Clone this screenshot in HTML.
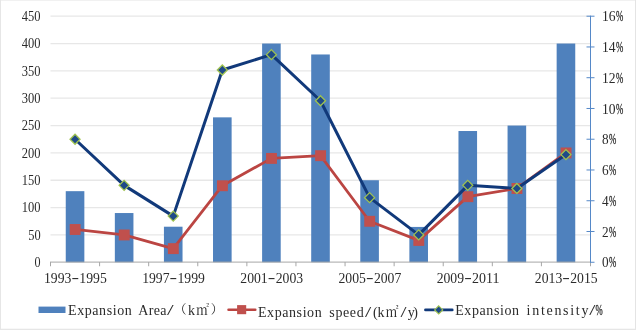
<!DOCTYPE html>
<html lang="en"><head><meta charset="utf-8"><title>Expansion chart</title>
<style>html,body{margin:0;padding:0;background:#fff;}svg{display:block;}text{font-family:"Liberation Serif", "Noto Serif CJK SC", serif;fill:#2b2b2b;}</style>
</head><body>
<svg width="636" height="330" viewBox="0 0 636 330">
<rect x="0" y="0" width="636" height="330" fill="#fff"/>
<rect x="0" y="0" width="636" height="1" fill="#f1f1f1"/>
<rect x="0" y="0" width="1" height="330" fill="#e6e6e6"/>
<rect x="635" y="0" width="1" height="330" fill="#e4e4e4"/>
<rect x="0" y="328.7" width="636" height="1.3" fill="#e6e6e6"/>
<line x1="50.5" y1="234.91" x2="590.5" y2="234.91" stroke="#e7e7e7" stroke-width="1.3"/>
<line x1="50.5" y1="207.57" x2="590.5" y2="207.57" stroke="#e7e7e7" stroke-width="1.3"/>
<line x1="50.5" y1="180.23" x2="590.5" y2="180.23" stroke="#e7e7e7" stroke-width="1.3"/>
<line x1="50.5" y1="152.89" x2="590.5" y2="152.89" stroke="#e7e7e7" stroke-width="1.3"/>
<line x1="50.5" y1="125.56" x2="590.5" y2="125.56" stroke="#e7e7e7" stroke-width="1.3"/>
<line x1="50.5" y1="98.22" x2="590.5" y2="98.22" stroke="#e7e7e7" stroke-width="1.3"/>
<line x1="50.5" y1="70.88" x2="590.5" y2="70.88" stroke="#e7e7e7" stroke-width="1.3"/>
<line x1="50.5" y1="43.54" x2="590.5" y2="43.54" stroke="#e7e7e7" stroke-width="1.3"/>
<line x1="50.5" y1="16.20" x2="590.5" y2="16.20" stroke="#e7e7e7" stroke-width="1.3"/>
<rect x="65.75" y="191.17" width="18.60" height="71.08" fill="#4f81bd"/>
<rect x="114.84" y="213.04" width="18.60" height="49.21" fill="#4f81bd"/>
<rect x="163.93" y="226.71" width="18.60" height="35.54" fill="#4f81bd"/>
<rect x="213.02" y="117.35" width="18.60" height="144.90" fill="#4f81bd"/>
<rect x="262.11" y="43.54" width="18.60" height="218.71" fill="#4f81bd"/>
<rect x="311.20" y="54.47" width="18.60" height="207.78" fill="#4f81bd"/>
<rect x="360.29" y="180.23" width="18.60" height="82.02" fill="#4f81bd"/>
<rect x="409.38" y="226.93" width="18.60" height="35.32" fill="#4f81bd"/>
<rect x="458.47" y="131.02" width="18.60" height="131.23" fill="#4f81bd"/>
<rect x="507.56" y="125.56" width="18.60" height="136.69" fill="#4f81bd"/>
<rect x="556.65" y="43.54" width="18.60" height="218.71" fill="#4f81bd"/>
<line x1="50" y1="262.1" x2="590.5" y2="262.1" stroke="#a6a6a6" stroke-width="1"/>
<line x1="50.50" y1="262.05" x2="50.50" y2="266.25" stroke="#a6a6a6" stroke-width="1"/>
<line x1="99.59" y1="262.05" x2="99.59" y2="266.25" stroke="#a6a6a6" stroke-width="1"/>
<line x1="148.68" y1="262.05" x2="148.68" y2="266.25" stroke="#a6a6a6" stroke-width="1"/>
<line x1="197.77" y1="262.05" x2="197.77" y2="266.25" stroke="#a6a6a6" stroke-width="1"/>
<line x1="246.86" y1="262.05" x2="246.86" y2="266.25" stroke="#a6a6a6" stroke-width="1"/>
<line x1="295.95" y1="262.05" x2="295.95" y2="266.25" stroke="#a6a6a6" stroke-width="1"/>
<line x1="345.05" y1="262.05" x2="345.05" y2="266.25" stroke="#a6a6a6" stroke-width="1"/>
<line x1="394.14" y1="262.05" x2="394.14" y2="266.25" stroke="#a6a6a6" stroke-width="1"/>
<line x1="443.23" y1="262.05" x2="443.23" y2="266.25" stroke="#a6a6a6" stroke-width="1"/>
<line x1="492.32" y1="262.05" x2="492.32" y2="266.25" stroke="#a6a6a6" stroke-width="1"/>
<line x1="541.41" y1="262.05" x2="541.41" y2="266.25" stroke="#a6a6a6" stroke-width="1"/>
<line x1="590.50" y1="262.05" x2="590.50" y2="266.25" stroke="#a6a6a6" stroke-width="1"/>
<line x1="590.5" y1="15.7" x2="590.5" y2="262.75" stroke="#5588c8" stroke-width="1"/>
<line x1="590.5" y1="262.25" x2="594.5" y2="262.25" stroke="#5588c8" stroke-width="1"/>
<line x1="586.5" y1="231.49" x2="594.5" y2="231.49" stroke="#5588c8" stroke-width="1"/>
<line x1="586.5" y1="200.74" x2="594.5" y2="200.74" stroke="#5588c8" stroke-width="1"/>
<line x1="586.5" y1="169.98" x2="594.5" y2="169.98" stroke="#5588c8" stroke-width="1"/>
<line x1="586.5" y1="139.22" x2="594.5" y2="139.22" stroke="#5588c8" stroke-width="1"/>
<line x1="586.5" y1="108.47" x2="594.5" y2="108.47" stroke="#5588c8" stroke-width="1"/>
<line x1="586.5" y1="77.71" x2="594.5" y2="77.71" stroke="#5588c8" stroke-width="1"/>
<line x1="586.5" y1="46.96" x2="594.5" y2="46.96" stroke="#5588c8" stroke-width="1"/>
<line x1="586.5" y1="16.20" x2="594.5" y2="16.20" stroke="#5588c8" stroke-width="1"/>
<polyline points="75.05,229.44 124.14,234.91 173.23,248.58 222.32,185.70 271.41,158.36 320.50,155.63 369.59,221.24 418.68,240.38 467.77,196.64 516.86,188.44 565.95,152.89" fill="none" stroke="#bb4542" stroke-width="2.75" stroke-linejoin="round" stroke-linecap="round"/>
<rect x="69.70" y="224.04" width="10.9" height="10.9" fill="#c0504d"/>
<rect x="118.79" y="229.51" width="10.9" height="10.9" fill="#c0504d"/>
<rect x="167.88" y="243.18" width="10.9" height="10.9" fill="#c0504d"/>
<rect x="216.97" y="180.30" width="10.9" height="10.9" fill="#c0504d"/>
<rect x="266.06" y="152.96" width="10.9" height="10.9" fill="#c0504d"/>
<rect x="315.15" y="150.23" width="10.9" height="10.9" fill="#c0504d"/>
<rect x="364.24" y="215.84" width="10.9" height="10.9" fill="#c0504d"/>
<rect x="413.33" y="234.98" width="10.9" height="10.9" fill="#c0504d"/>
<rect x="462.42" y="191.24" width="10.9" height="10.9" fill="#c0504d"/>
<rect x="511.51" y="183.03" width="10.9" height="10.9" fill="#c0504d"/>
<rect x="560.60" y="147.49" width="10.9" height="10.9" fill="#c0504d"/>
<polyline points="75.05,139.22 124.14,185.36 173.23,216.12 222.32,70.02 271.41,54.65 320.50,100.78 369.59,197.66 418.68,234.88 467.77,185.36 516.86,188.44 565.95,154.60" fill="none" stroke="#11397a" stroke-width="3" stroke-linejoin="round" stroke-linecap="round"/>
<path d="M75.05 134.22L80.05 139.22L75.05 144.22L70.05 139.22Z" fill="#1f4a88" stroke="#a0c350" stroke-width="1.3"/>
<path d="M124.14 180.36L129.14 185.36L124.14 190.36L119.14 185.36Z" fill="#1f4a88" stroke="#a0c350" stroke-width="1.3"/>
<path d="M173.23 211.12L178.23 216.12L173.23 221.12L168.23 216.12Z" fill="#1f4a88" stroke="#a0c350" stroke-width="1.3"/>
<path d="M222.32 65.02L227.32 70.02L222.32 75.02L217.32 70.02Z" fill="#1f4a88" stroke="#a0c350" stroke-width="1.3"/>
<path d="M271.41 49.65L276.41 54.65L271.41 59.65L266.41 54.65Z" fill="#1f4a88" stroke="#a0c350" stroke-width="1.3"/>
<path d="M320.50 95.78L325.50 100.78L320.50 105.78L315.50 100.78Z" fill="#1f4a88" stroke="#a0c350" stroke-width="1.3"/>
<path d="M369.59 192.66L374.59 197.66L369.59 202.66L364.59 197.66Z" fill="#1f4a88" stroke="#a0c350" stroke-width="1.3"/>
<path d="M418.68 229.88L423.68 234.88L418.68 239.88L413.68 234.88Z" fill="#1f4a88" stroke="#a0c350" stroke-width="1.3"/>
<path d="M467.77 180.36L472.77 185.36L467.77 190.36L462.77 185.36Z" fill="#1f4a88" stroke="#a0c350" stroke-width="1.3"/>
<path d="M516.86 183.44L521.86 188.44L516.86 193.44L511.86 188.44Z" fill="#1f4a88" stroke="#a0c350" stroke-width="1.3"/>
<path d="M565.95 149.60L570.95 154.60L565.95 159.60L560.95 154.60Z" fill="#1f4a88" stroke="#a0c350" stroke-width="1.3"/>
<text x="40.6" y="267.05" font-size="13.6" text-anchor="end" textLength="6.05" lengthAdjust="spacingAndGlyphs">0</text>
<text x="40.6" y="239.71" font-size="13.6" text-anchor="end" textLength="12.40" lengthAdjust="spacingAndGlyphs">50</text>
<text x="40.6" y="212.37" font-size="13.6" text-anchor="end" textLength="18.75" lengthAdjust="spacingAndGlyphs">100</text>
<text x="40.6" y="185.03" font-size="13.6" text-anchor="end" textLength="18.75" lengthAdjust="spacingAndGlyphs">150</text>
<text x="40.6" y="157.69" font-size="13.6" text-anchor="end" textLength="18.75" lengthAdjust="spacingAndGlyphs">200</text>
<text x="40.6" y="130.36" font-size="13.6" text-anchor="end" textLength="18.75" lengthAdjust="spacingAndGlyphs">250</text>
<text x="40.6" y="103.02" font-size="13.6" text-anchor="end" textLength="18.75" lengthAdjust="spacingAndGlyphs">300</text>
<text x="40.6" y="75.68" font-size="13.6" text-anchor="end" textLength="18.75" lengthAdjust="spacingAndGlyphs">350</text>
<text x="40.6" y="48.34" font-size="13.6" text-anchor="end" textLength="18.75" lengthAdjust="spacingAndGlyphs">400</text>
<text x="40.6" y="21.00" font-size="13.6" text-anchor="end" textLength="18.75" lengthAdjust="spacingAndGlyphs">450</text>
<text y="267.35" font-size="14.8" lengthAdjust="spacingAndGlyphs"><tspan x="601.9" textLength="6.65" lengthAdjust="spacingAndGlyphs">0</tspan><tspan x="608.95" textLength="7.3" lengthAdjust="spacingAndGlyphs" stroke="#2b2b2b" stroke-width="0.3">%</tspan></text>
<text y="236.59" font-size="14.8" lengthAdjust="spacingAndGlyphs"><tspan x="601.9" textLength="6.65" lengthAdjust="spacingAndGlyphs">2</tspan><tspan x="608.95" textLength="7.3" lengthAdjust="spacingAndGlyphs" stroke="#2b2b2b" stroke-width="0.3">%</tspan></text>
<text y="205.84" font-size="14.8" lengthAdjust="spacingAndGlyphs"><tspan x="601.9" textLength="6.65" lengthAdjust="spacingAndGlyphs">4</tspan><tspan x="608.95" textLength="7.3" lengthAdjust="spacingAndGlyphs" stroke="#2b2b2b" stroke-width="0.3">%</tspan></text>
<text y="175.08" font-size="14.8" lengthAdjust="spacingAndGlyphs"><tspan x="601.9" textLength="6.65" lengthAdjust="spacingAndGlyphs">6</tspan><tspan x="608.95" textLength="7.3" lengthAdjust="spacingAndGlyphs" stroke="#2b2b2b" stroke-width="0.3">%</tspan></text>
<text y="144.32" font-size="14.8" lengthAdjust="spacingAndGlyphs"><tspan x="601.9" textLength="6.65" lengthAdjust="spacingAndGlyphs">8</tspan><tspan x="608.95" textLength="7.3" lengthAdjust="spacingAndGlyphs" stroke="#2b2b2b" stroke-width="0.3">%</tspan></text>
<text y="113.57" font-size="14.8" lengthAdjust="spacingAndGlyphs"><tspan x="601.9" textLength="13.60" lengthAdjust="spacingAndGlyphs">10</tspan><tspan x="615.90" textLength="7.3" lengthAdjust="spacingAndGlyphs" stroke="#2b2b2b" stroke-width="0.3">%</tspan></text>
<text y="82.81" font-size="14.8" lengthAdjust="spacingAndGlyphs"><tspan x="601.9" textLength="13.60" lengthAdjust="spacingAndGlyphs">12</tspan><tspan x="615.90" textLength="7.3" lengthAdjust="spacingAndGlyphs" stroke="#2b2b2b" stroke-width="0.3">%</tspan></text>
<text y="52.06" font-size="14.8" lengthAdjust="spacingAndGlyphs"><tspan x="601.9" textLength="13.60" lengthAdjust="spacingAndGlyphs">14</tspan><tspan x="615.90" textLength="7.3" lengthAdjust="spacingAndGlyphs" stroke="#2b2b2b" stroke-width="0.3">%</tspan></text>
<text y="21.30" font-size="14.8" lengthAdjust="spacingAndGlyphs"><tspan x="601.9" textLength="13.60" lengthAdjust="spacingAndGlyphs">16</tspan><tspan x="615.90" textLength="7.3" lengthAdjust="spacingAndGlyphs" stroke="#2b2b2b" stroke-width="0.3">%</tspan></text>
<text y="282.9" font-size="15.3" lengthAdjust="spacingAndGlyphs"><tspan x="43.95" textLength="27.4" lengthAdjust="spacingAndGlyphs">1993</tspan><tspan x="71.45" y="281.6" textLength="7.6" lengthAdjust="spacingAndGlyphs">-</tspan><tspan x="79.35" y="282.9" textLength="27.4" lengthAdjust="spacingAndGlyphs">1995</tspan></text>
<text y="282.9" font-size="15.3" lengthAdjust="spacingAndGlyphs"><tspan x="142.13" textLength="27.4" lengthAdjust="spacingAndGlyphs">1997</tspan><tspan x="169.63" y="281.6" textLength="7.6" lengthAdjust="spacingAndGlyphs">-</tspan><tspan x="177.53" y="282.9" textLength="27.4" lengthAdjust="spacingAndGlyphs">1999</tspan></text>
<text y="282.9" font-size="15.3" lengthAdjust="spacingAndGlyphs"><tspan x="240.31" textLength="27.4" lengthAdjust="spacingAndGlyphs">2001</tspan><tspan x="267.81" y="281.6" textLength="7.6" lengthAdjust="spacingAndGlyphs">-</tspan><tspan x="275.71" y="282.9" textLength="27.4" lengthAdjust="spacingAndGlyphs">2003</tspan></text>
<text y="282.9" font-size="15.3" lengthAdjust="spacingAndGlyphs"><tspan x="338.49" textLength="27.4" lengthAdjust="spacingAndGlyphs">2005</tspan><tspan x="365.99" y="281.6" textLength="7.6" lengthAdjust="spacingAndGlyphs">-</tspan><tspan x="373.89" y="282.9" textLength="27.4" lengthAdjust="spacingAndGlyphs">2007</tspan></text>
<text y="282.9" font-size="15.3" lengthAdjust="spacingAndGlyphs"><tspan x="436.67" textLength="27.4" lengthAdjust="spacingAndGlyphs">2009</tspan><tspan x="464.17" y="281.6" textLength="7.6" lengthAdjust="spacingAndGlyphs">-</tspan><tspan x="472.07" y="282.9" textLength="27.4" lengthAdjust="spacingAndGlyphs">2011</tspan></text>
<text y="282.9" font-size="15.3" lengthAdjust="spacingAndGlyphs"><tspan x="534.85" textLength="27.4" lengthAdjust="spacingAndGlyphs">2013</tspan><tspan x="562.35" y="281.6" textLength="7.6" lengthAdjust="spacingAndGlyphs">-</tspan><tspan x="570.25" y="282.9" textLength="27.4" lengthAdjust="spacingAndGlyphs">2015</tspan></text>
<rect x="38.5" y="306.6" width="27" height="6.4" fill="#4f81bd"/>
<text y="314.6" font-size="14"><tspan x="68" textLength="63.8">Expansion</tspan> <tspan x="138.3" textLength="28.2">Area</tspan><tspan x="166.9" textLength="6.6" lengthAdjust="spacingAndGlyphs">/</tspan><tspan x="174.0" y="313.9" font-size="12.5">（</tspan><tspan x="188" y="314.6">k</tspan><tspan x="196" y="314" font-size="13">㎡</tspan><tspan x="210.7" y="313.9" font-size="12.5">）</tspan></text>
<line x1="228.5" y1="309.7" x2="255.3" y2="309.7" stroke="#bb4542" stroke-width="2.5" stroke-linecap="round"/>
<rect x="237.1" y="305.1" width="9.1" height="9.1" fill="#c0504d"/>
<text y="316.5" font-size="14"><tspan x="257.9" textLength="63.8">Expansion</tspan> <tspan x="329.3" textLength="34.4">speed</tspan><tspan x="364.9" textLength="6.2" lengthAdjust="spacingAndGlyphs">/</tspan><tspan x="373.1">(</tspan><tspan x="377.6">k</tspan><tspan x="385.6" y="315.9" font-size="13">㎡</tspan><tspan x="400.4" y="316.5" textLength="6" lengthAdjust="spacingAndGlyphs">/</tspan><tspan x="407.7">y</tspan><tspan x="413.3">)</tspan></text>
<line x1="425.5" y1="309.9" x2="452.2" y2="309.9" stroke="#11397a" stroke-width="2.8" stroke-linecap="round"/>
<path d="M438.70 305.80L442.80 309.90L438.70 314.00L434.60 309.90Z" fill="#1f4a88" stroke="#a0c350" stroke-width="1.1"/>
<text y="314.8" font-size="14"><tspan x="455.2" textLength="63.8">Expansion</tspan> <tspan x="526.6" textLength="61.8">intensity</tspan><tspan x="589.3" textLength="6.2" lengthAdjust="spacingAndGlyphs">/</tspan><tspan x="595.5" textLength="7.2" lengthAdjust="spacingAndGlyphs" stroke="#2b2b2b" stroke-width="0.3">%</tspan></text>
</svg>
</body></html>
